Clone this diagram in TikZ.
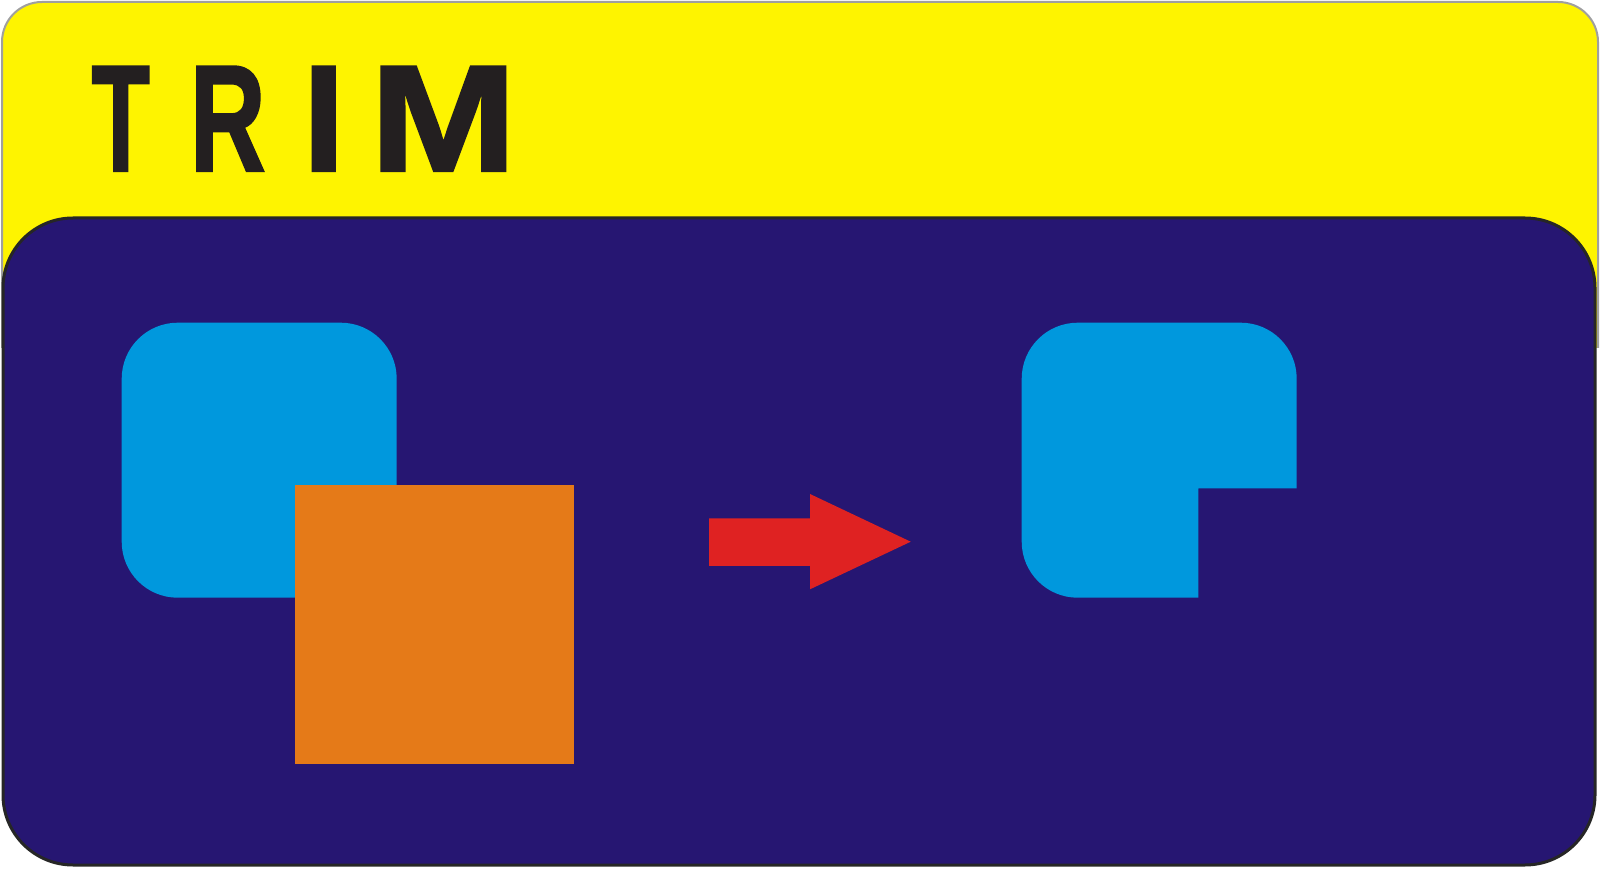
\documentclass[tikz,border=0pt]{standalone}
\usepackage{fontspec}
\usepackage{graphicx}
\setmainfont{Liberation Sans}
\definecolor{bgyellow}{HTML}{FEF400}
\definecolor{panelblue}{HTML}{261672}
\definecolor{lightblue}{HTML}{0098DD}
\definecolor{orangebox}{HTML}{E57A18}
\definecolor{arrowred}{HTML}{DF2222}
\definecolor{textdark}{HTML}{231F20}
\begin{document}
\begin{tikzpicture}[x=0.5pt,y=0.5pt,
  frame/.style={fill=bgyellow,draw=gray!75,line width=1pt,rounded corners=20pt},
  panel/.style={fill=panelblue,draw=black!85,line width=1.5pt,rounded corners=35pt},
  roundsq/.style={fill=lightblue,rounded corners=28pt},
  shapefill/.style={fill=lightblue},
  orangesq/.style={fill=orangebox},
  arrowshape/.style={fill=arrowred}]
\useasboundingbox (0,0) rectangle (1600,868);
% yellow frame
\path[frame] (2,520) -- (2,866) -- (1598,866) -- (1598,520);
% dark panel
\path[panel] (3,650) rectangle (1595,3);
% title
\node[anchor=base west,inner sep=0pt,text=textdark] (title) at (91,697)
  {\fontsize{76pt}{76pt}\selectfont\bfseries\addfontfeature{FakeBold=1.5}%
   \scalebox{0.63}[1]{T}\hspace{20pt}\scalebox{0.69}[1]{R}\hspace{18.5pt}I\hspace{12.5pt}\scalebox{1.16}[1]{M}};
% left: rounded square and orange square
\path[roundsq] (121.7,545.3) rectangle (396.7,270.3);
\path[orangesq] (295,383) rectangle (574,104);
% arrow
\path[arrowshape] (709,349.7) -- (810,349.7) -- (810,374) -- (910.7,326.3) -- (810,278.7) -- (810,302) -- (709,302) -- cycle;
% right: trimmed shape
\path[shapefill] (1021.7,400) -- (1021.7,489.3) arc[start angle=180,end angle=90,radius=28pt]
  -- (1240.7,545.3) arc[start angle=90,end angle=0,radius=28pt]
  -- (1296.7,379.7) -- (1198.3,379.7) -- (1198.3,270.3) -- (1077.7,270.3)
  arc[start angle=270,end angle=180,radius=28pt] -- cycle;
\end{tikzpicture}
\end{document}
